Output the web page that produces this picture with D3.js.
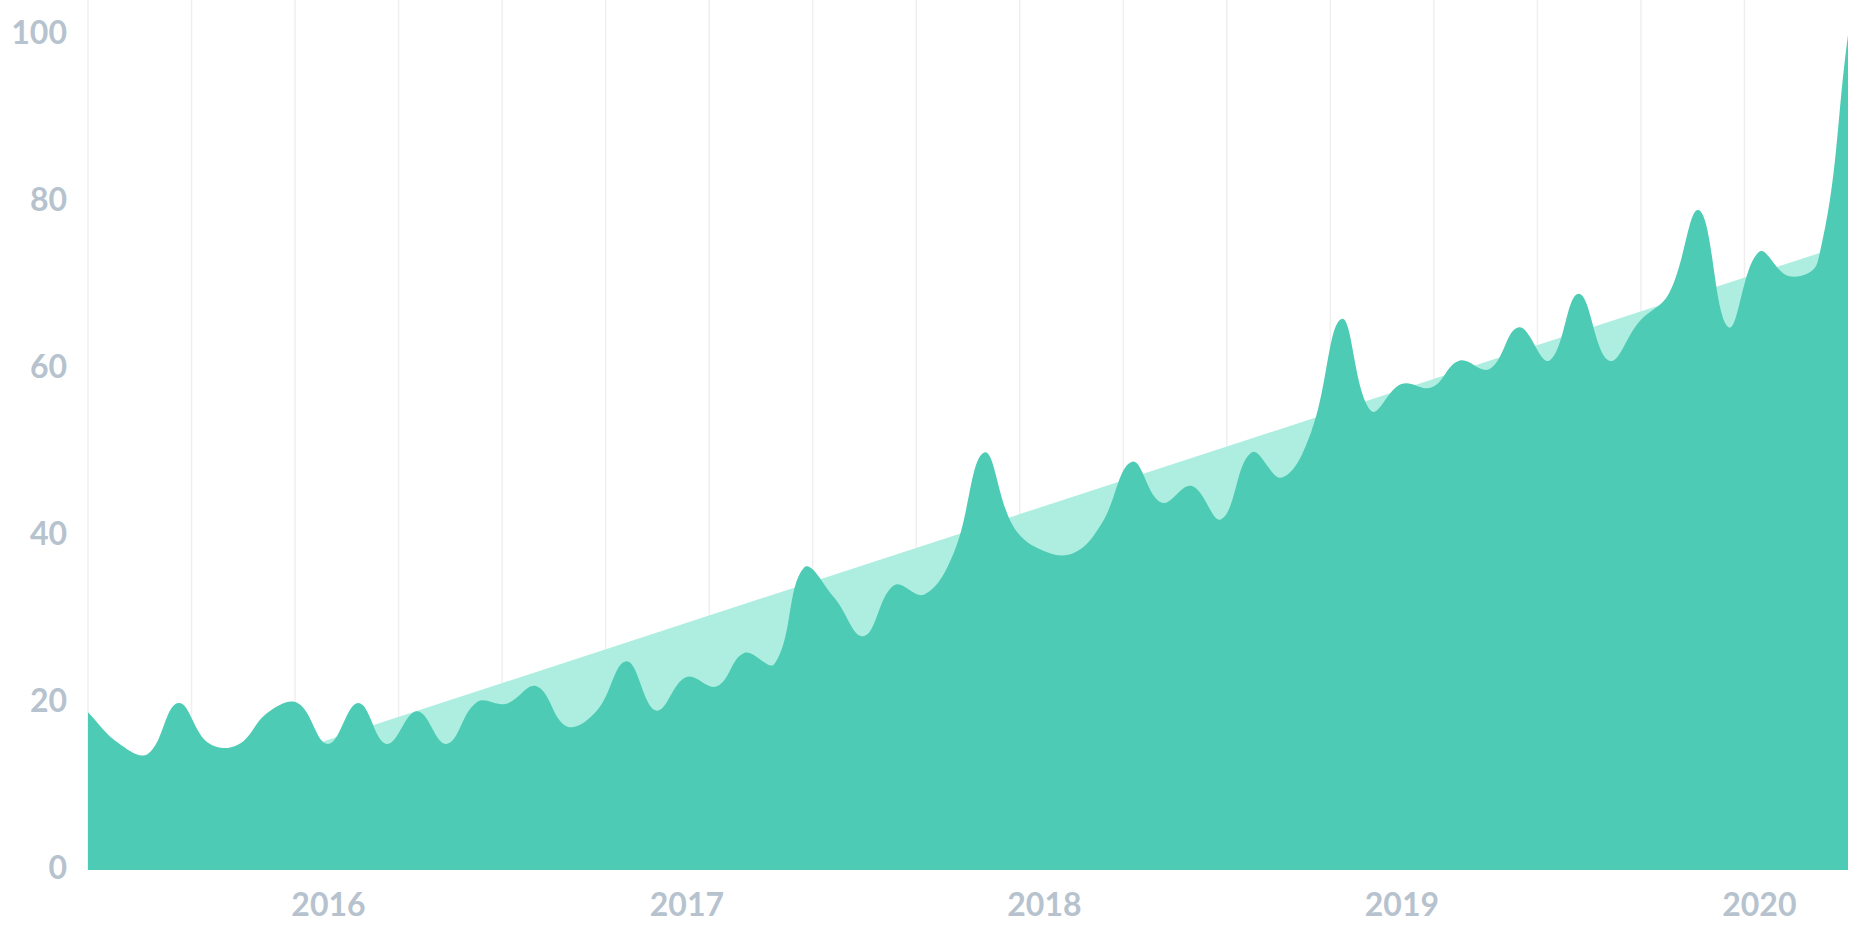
<!DOCTYPE html>
<html>
<head>
<meta charset="utf-8">
<script src="https://cdn.jsdelivr.net/npm/d3@7"></script>
<style>
  html, body { margin: 0; padding: 0; background: #fff; }
  svg { display: block; }
  .axis .tick text { font-family: Lato, "Open Sans", sans-serif; font-weight: 700; font-size: 32px; fill: #b6c2ce; }
</style>
</head>
<body>
<svg id="chart" width="1866" height="940"></svg>
<script>
const width = 1866, height = 940;
const margin = { top: 35, right: 18, bottom: 70, left: 88 };
const iw = width - margin.left - margin.right;
const ih = height - margin.top - margin.bottom;

// one value per month, May 2015 .. Apr 2020
const values2015 = [18.9, 15.2, 13.9, 20.0, 15.2, 15.0, 18.9, 20.0];   // May-Dec
const values2016 = [15.1, 20.0, 15.1, 19.0, 15.1, 20.1, 19.9, 22.0, 17.2, 19.0, 25.0, 19.1];
const values2017 = [23.1, 22.0, 26.0, 24.7, 36.2, 32.6, 28.0, 34.1, 33.0, 38.0, 50.0, 41.1];
const values2018 = [38.2, 38.0, 41.5, 48.9, 44.0, 46.0, 42.0, 50.0, 47.0, 52.5, 66.0, 55.0];
const values2019 = [58.2, 57.8, 61.0, 60.0, 65.0, 61.0, 69.0, 61.0, 65.7, 69.0, 79.0, 65.0];
const values2020 = [74.0, 71.1, 72.8, 100];                            // Jan-Apr
const trendEnds = [6.2, 75.0];   // trend line value at first and last month
const yTicks = [0, 20, 40, 60, 80, 100];
const gridCount = 17;

const values = [].concat(values2015, values2016, values2017, values2018, values2019, values2020);
const months = d3.timeMonth.range(new Date(2015, 4, 1), new Date(2020, 4, 1));
const data = months.map((m, i) => ({ date: m, value: values[i] }));
const trend = [
  { date: months[0], value: trendEnds[0] },
  { date: months[months.length - 1], value: trendEnds[1] }
];

const x = d3.scaleTime().domain(d3.extent(months)).range([0, iw]);
const y = d3.scaleLinear().domain([0, 100]).range([ih, 0]);
const gridX = d3.scaleLinear().domain([0, gridCount]).range([0, iw]);

// spline like chart.js (tension 0.4, control points capped to the chart area)
const tension = 0.4;
function ChartSpline(context) { this._context = context; }
ChartSpline.prototype = {
  areaStart() { this._line = 0; },
  areaEnd() { this._line = NaN; },
  lineStart() { this._pts = []; },
  point(px, py) { this._pts.push({ x: +px, y: +py }); },
  lineEnd() {
    const p = this._pts, n = p.length, ctx = this._context;
    const cx = v => Math.max(0, Math.min(iw, v));
    const cy = v => Math.max(0, Math.min(ih, v));
    if (n) {
      if (this._line) ctx.lineTo(p[0].x, p[0].y); else ctx.moveTo(p[0].x, p[0].y);
      p.forEach((cur, i) => {
        const prev = p[i - 1] || cur, next = p[i + 1] || cur;
        const d01 = Math.hypot(cur.x - prev.x, cur.y - prev.y);
        const d12 = Math.hypot(next.x - cur.x, next.y - cur.y);
        const fa = tension * (d01 / (d01 + d12) || 0);
        const fb = tension * (d12 / (d01 + d12) || 0);
        cur.cp0 = [cx(cur.x - fa * (next.x - prev.x)), cy(cur.y - fa * (next.y - prev.y))];
        cur.cp1 = [cx(cur.x + fb * (next.x - prev.x)), cy(cur.y + fb * (next.y - prev.y))];
      });
      for (let i = 1; i < n; i++) {
        ctx.bezierCurveTo(p[i - 1].cp1[0], p[i - 1].cp1[1], p[i].cp0[0], p[i].cp0[1], p[i].x, p[i].y);
      }
    }
    if (this._line || (this._line !== 0 && n === 1)) ctx.closePath();
    this._line = 1 - this._line;
  }
};
const chartSpline = context => new ChartSpline(context);

const svg = d3.select("#chart");
const g = svg.append("g").attr("transform", `translate(${margin.left},${margin.top})`);

// vertical grid
g.append("g")
  .selectAll("line")
  .data(d3.range(gridCount))
  .join("line")
    .attr("x1", d => gridX(d))
    .attr("x2", d => gridX(d))
    .attr("y1", -margin.top)
    .attr("y2", ih)
    .attr("stroke", "#efefef")
    .attr("stroke-width", 1.5);

// trend area behind
g.append("path")
  .datum(trend)
  .attr("fill", "#aeeee0")
  .attr("d", d3.area()
    .x(d => x(d.date))
    .y0(ih)
    .y1(d => y(d.value)));

// main area
g.append("path")
  .datum(data)
  .attr("fill", "#4ecbb4")
  .attr("d", d3.area()
    .curve(chartSpline)
    .x(d => x(d.date))
    .y0(ih)
    .y1(d => y(d.value)));

// axes
g.append("g")
  .attr("class", "axis")
  .call(d3.axisLeft(y).tickValues(yTicks).tickSize(0).tickPadding(21))
  .call(a => a.select(".domain").remove())
  .selectAll("text").attr("dy", "0.27em");

g.append("g")
  .attr("class", "axis")
  .attr("transform", `translate(0,${ih})`)
  .call(d3.axisBottom(x).ticks(d3.timeYear).tickFormat(d3.timeFormat("%Y")).tickSize(0).tickPadding(23))
  .call(a => a.select(".domain").remove());
</script>
</body>
</html>
